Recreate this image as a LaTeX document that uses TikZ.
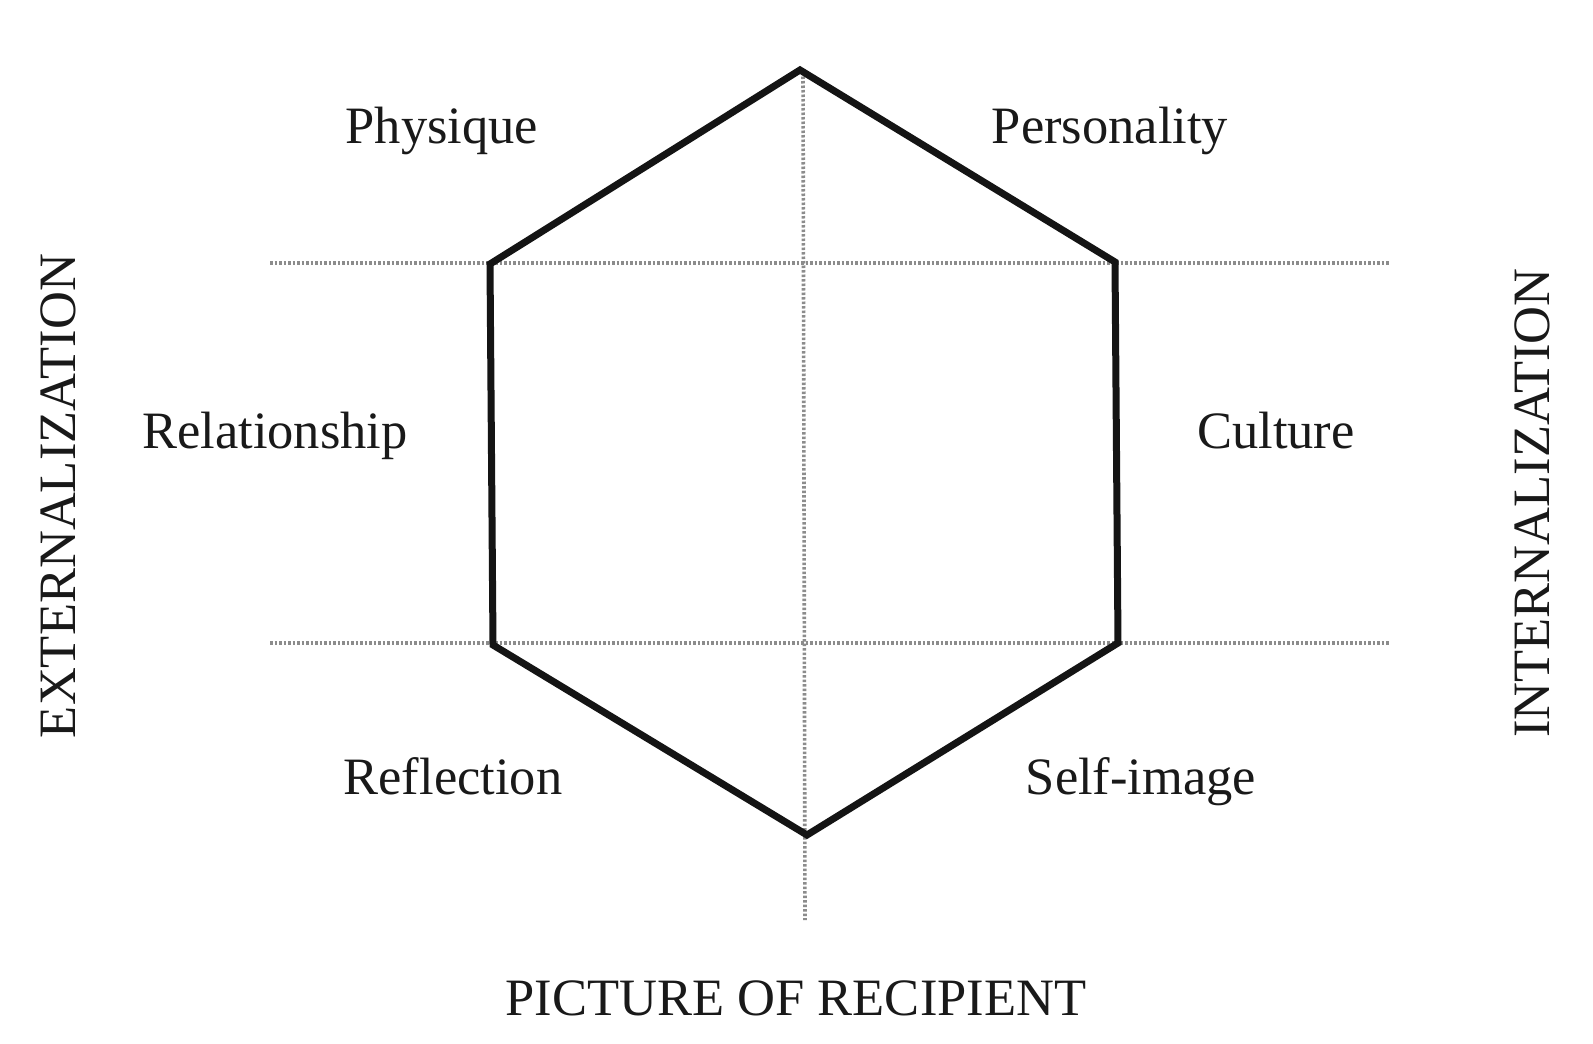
\documentclass[tikz,border=0pt]{standalone}
\usepackage{fontspec}
\setmainfont{Liberation Serif}
\begin{document}
\begin{tikzpicture}[x=1pt,y=-1pt,
  hexline/.style={line width=7pt,line join=miter,black!92},
  guide/.style={line width=3.6pt,black!45,dash pattern=on 2.5pt off 2pt},
  lbl/.style={anchor=base,inner sep=0pt,font=\fontsize{52.5}{60}\selectfont,text=black!90},
  vlbl/.style={inner sep=0pt,font=\fontsize{52.5}{60}\selectfont,text=black!90,rotate=90}]
\useasboundingbox[fill=white] (0,0) rectangle (1593,1044);
% guide end points
\coordinate (h1l) at (270,263);
\coordinate (h1r) at (1390,263);
\coordinate (h2l) at (270,643);
\coordinate (h2r) at (1390,643);
\coordinate (vt) at (803,72);
\coordinate (vb) at (805,920);
\draw[guide] (h1l) -- (h1r);
\draw[guide] (h2l) -- (h2r);
\draw[guide] (vt) -- (vb);
% hexagon
\coordinate (top) at (800,70);
\coordinate (ul) at (490,264);
\coordinate (ur) at (1115,262);
\coordinate (ll) at (493,645);
\coordinate (lr) at (1118,643);
\coordinate (bot) at (807,835);
\draw[hexline] (top) -- (ur) -- (lr) -- (bot) -- (ll) -- (ul) -- cycle;
% labels
\node[lbl] (phys) at (442,143) {Physique};
\node[lbl] (pers) at (1110,143) {Personality};
\node[lbl] (rel) at (275,448) {Relationship};
\node[lbl] (cult) at (1276,448) {Culture};
\node[lbl] (refl) at (453,794) {Reflection};
\node[lbl] (self) at (1141,794) {Self-image};
\node[lbl] (pic) at (796,1015) {PICTURE OF RECIPIENT};
\node[vlbl] (ext) at (58,496) {EXTERNALIZATION};
\node[vlbl] (int) at (1532,503) {INTERNALIZATION};
\end{tikzpicture}
\end{document}
